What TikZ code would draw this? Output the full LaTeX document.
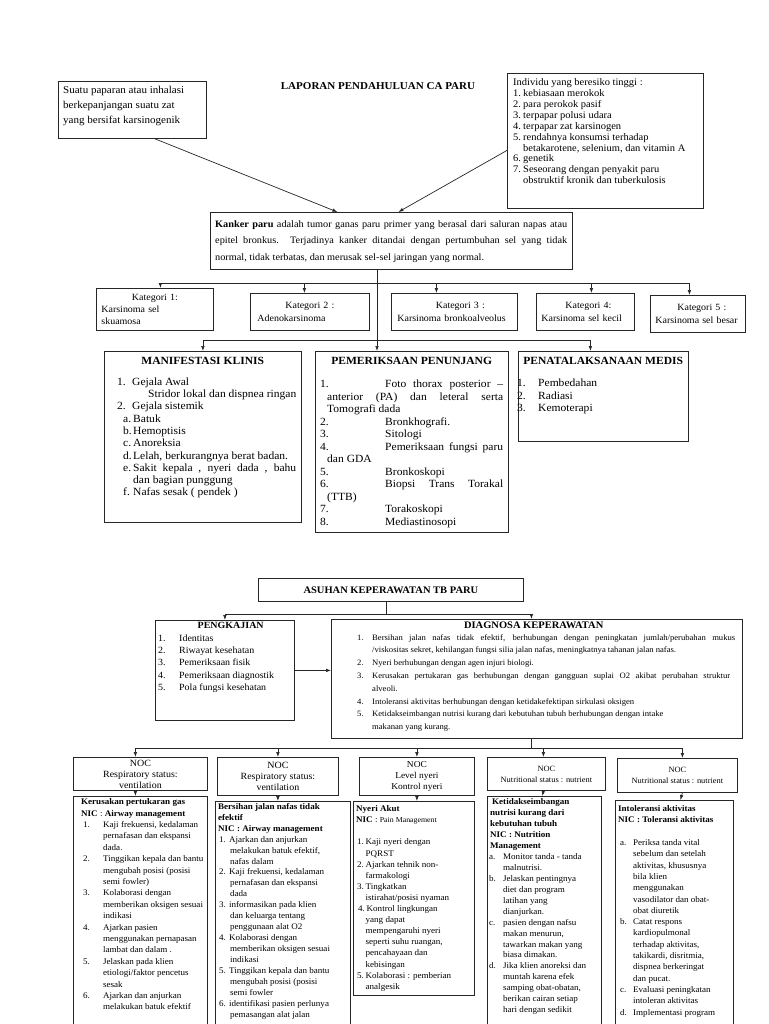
\documentclass[tikz,border=0pt]{standalone}
\usepackage{fontspec}
\setmainfont{Liberation Serif}[FakeStretch=1.05]
\usetikzlibrary{calc,arrows.meta}
\newcommand{\fs}[2]{\fontsize{#1}{#2}\selectfont}
\newcommand{\nb}[2]{\makebox[#1pt][l]{#2}}
\newcommand{\ind}[1]{\hspace*{#1pt}}
\newcommand{\jl}[2]{\makebox[#1pt][s]{#2}}
\begin{document}
\begin{tikzpicture}[x=1pt,y=-1pt,
  box/.style={draw=black!85, line width=0.8pt, inner sep=0pt, anchor=north west},
  txt/.style={inner sep=0pt, anchor=north west, align=left},
  arr/.style={draw=black!85, line width=0.7pt, -{Latex[length=5pt,width=3.6pt]}},
  ln/.style={draw=black!85, line width=0.7pt}]
\useasboundingbox (0,0) rectangle (768,1024);
\fill[white] (0,0) rectangle (768,1024);

% ---------- top part ----------
\node[font=\fs{10.5}{12}\bfseries] (title) at (378,86) {LAPORAN PENDAHULUAN CA PARU};

\node[box, minimum width=148, minimum height=57] (s1) at (58,81) {};
\node[txt, font=\fs{10.5}{15}] (s1t) at (63,86.5) {Suatu paparan atau inhalasi\\berkepanjangan suatu zat\\yang bersifat karsinogenik};

\node[box, minimum width=196, minimum height=135] (s2) at (507,73) {};
\node[txt, font=\fs{10}{10.9}] (s2t) at (513,78.5) {Individu yang beresiko tinggi :\\
\nb{10}{1.}kebiasaan merokok\\
\nb{10}{2.}para perokok pasif\\
\nb{10}{3.}terpapar polusi udara\\
\nb{10}{4.}terpapar zat karsinogen\\
\nb{10}{5.}rendahnya konsumsi terhadap\\
\ind{10}betakarotene, selenium, dan vitamin A\\
\nb{10}{6.}genetik\\
\nb{10}{7.}Seseorang dengan penyakit paru\\
\ind{10}obstruktif kronik dan tuberkulosis};

\node[box, minimum width=362, minimum height=57] (kanker) at (210,212) {};
\node[txt, font=\fs{9.8}{16.5}] (kt) at (215,220.5) {\jl{352}{\textbf{Kanker paru} adalah tumor ganas paru primer yang berasal dari saluran napas atau}\\
\jl{352}{epitel bronkus. Terjadinya kanker ditandai dengan pertumbuhan sel yang tidak}\\
normal, tidak terbatas, dan merusak sel-sel jaringan yang normal.};

\draw[arr] ($(s1.south)+(22.5,0)$) -- ($(kanker.north)+(-54,0)$);
\draw[arr] ($(s2.west)+(0,9.5)$) -- ($(kanker.north)+(7,0)$);

% categories
\tikzset{cat/.style={box, minimum height=37, align=left, font=\fs{9.5}{12.3}}}
\node[cat, minimum width=117, minimum height=42, text width=107] (c1) at (96,288) {\makebox[107pt]{Kategori 1:}\\Karsinoma sel\\skuamosa};
\node[cat, minimum width=119, text width=105] (c2) at (250,293) {\makebox[105pt]{Kategori 2 :}\\Adenokarsinoma};
\node[cat, minimum width=126, text width=114] (c3) at (391,293) {\makebox[114pt]{\hspace*{12pt}Kategori 3 :}\\Karsinoma bronkoalveolus};
\node[cat, minimum width=98, text width=88] (c4) at (536,293) {\makebox[88pt]{\hspace*{6pt}Kategori 4:}\\Karsinoma sel kecil};
\node[cat, minimum width=95, text width=85] (c5) at (650,295) {\makebox[85pt]{\hspace*{8pt}Kategori 5 :}\\Karsinoma sel besar};

\coordinate (j1) at (377,283);
\coordinate (j2) at (377,340);
\draw[ln] (kanker.south -| j1) -- (j2);
\draw[arr] (j1) -| ($(c1.north)+(5.5,0)$);
\draw[arr] (j1) -| ($(c2.north)+(-5.5,0)$);
\draw[arr] (j1) -| ($(c3.north)+(-18,0)$);
\draw[arr] (j1) -| ($(c4.north)+(6,0)$);
\draw[arr] (j1) -| ($(c5.north)+(-8.5,0)$);

% three info boxes
\node[box, minimum width=197, minimum height=171] (m1) at (104,351) {};
\node[box, minimum width=193, minimum height=181] (m2) at (315,351) {};
\node[box, minimum width=170, minimum height=90] (m3) at (518,351) {};
\draw[arr] (j2) -| (m1.north);
\draw[arr] (j2) -- (j2 |- m2.north);
\draw[arr] (j2) -| ($(m3.north)+(-13,0)$);

\node[txt, font=\fs{11}{12.3}] (m1t) at (109,357) {\makebox[187pt]{\bfseries MANIFESTASI KLINIS}\\[8.5pt]
\ind{8}\nb{15}{1.}Gejala Awal\\
\ind{39}Stridor lokal dan dispnea ringan\\
\ind{8}\nb{15}{2.}Gejala sistemik\\
\ind{14}\nb{10}{a.}Batuk\\
\ind{14}\nb{10}{b.}Hemoptisis\\
\ind{14}\nb{10}{c.}Anoreksia\\
\ind{14}\nb{10}{d.}Lelah, berkurangnya berat badan.\\
\ind{14}\nb{10}{e.}\jl{163}{Sakit kepala , nyeri dada , bahu}\\
\ind{24}dan bagian punggung\\
\ind{14}\nb{10}{f.}Nafas sesak ( pendek )};

\node[txt, font=\fs{11}{12.5}] (m2t) at (320,357) {\makebox[183pt]{\bfseries PEMERIKSAAN PENUNJANG}\\[11pt]
\nb{65}{1.}\jl{118}{Foto thorax posterior --}\\
\ind{7}\jl{176}{anterior (PA) dan leteral serta}\\
\ind{7}Tomografi dada\\
\nb{65}{2.}Bronkhografi.\\
\nb{65}{3.}Sitologi\\
\nb{65}{4.}\jl{118}{Pemeriksaan fungsi paru}\\
\ind{7}dan GDA\\
\nb{65}{5.}Bronkoskopi\\
\nb{65}{6.}\jl{118}{Biopsi Trans Torakal}\\
\ind{7}(TTB)\\
\nb{65}{7.}Torakoskopi\\
\nb{65}{8.}Mediastinosopi};

\node[txt, font=\fs{11}{12.5}] (m3t) at (517,357) {\makebox[172pt]{\bfseries PENATALAKSANAAN MEDIS}\\[10pt]
\nb{21}{1.}Pembedahan\\
\nb{21}{2.}Radiasi\\
\nb{21}{3.}Kemoterapi};

% ---------- bottom part ----------
\node[box, minimum width=265, minimum height=23, font=\fs{10}{12}\bfseries] (asuhan) at (258,578) {ASUHAN KEPERAWATAN TB PARU};
\node[box, minimum width=139, minimum height=100] (p1) at (155,620) {};
\node[box, minimum width=411, minimum height=119] (d1) at (331,619) {};
\coordinate (j3) at (386,614);
\draw[ln] (asuhan.south -| j3) -- (j3);
\draw[arr] (j3) -| (p1.north);
\draw[arr] (j3) -| ($(d1.north)+(-5.5,0)$);
\draw[arr] (p1.east) -- (p1.east -| d1.west);

\node[txt, font=\fs{9.5}{12.3}] (p1t) at (158,622.5) {\makebox[133pt]{\hspace*{12pt}\bfseries PENGKAJIAN}\\
\nb{21}{1.}Identitas\\
\nb{21}{2.}Riwayat kesehatan\\
\nb{21}{3.}Pemeriksaan fisik\\
\nb{21}{4.}Pemeriksaan diagnostik\\
\nb{21}{5.}Pola fungsi kesehatan};

\node[txt, font=\fs{8.2}{12.8}] (d1t) at (336,622) {\makebox[401pt]{\hspace*{-6pt}\fs{10}{12}\bfseries DIAGNOSA KEPERAWATAN}\\[-1.5pt]
\ind{21}\nb{15}{1.}\jl{363}{Bersihan jalan nafas tidak efektif, berhubungan dengan peningkatan jumlah/perubahan mukus}\\
\ind{36}/viskositas sekret, kehilangan fungsi silia jalan nafas, meningkatnya tahanan jalan nafas.\\
\ind{21}\nb{15}{2.}Nyeri berhubungan dengan agen injuri biologi.\\
\ind{21}\nb{15}{3.}\jl{358}{Kerusakan pertukaran gas berhubungan dengan gangguan suplai O2 akibat perubahan struktur}\\
\ind{36}alveoli.\\
\ind{21}\nb{15}{4.}Intoleransi aktivitas berhubungan dengan ketidakefektipan sirkulasi oksigen\\
\ind{21}\nb{15}{5.}Ketidakseimbangan nutrisi kurang dari kebutuhan tubuh berhubungan dengan intake\\
\ind{36}makanan yang kurang.};

% NOC boxes
\tikzset{noc/.style={box, align=center}}
\node[noc, minimum width=134, minimum height=33, font=\fs{9.5}{11}] (n1) at (73,757) {NOC\\Respiratory status:\\ventilation};
\node[noc, minimum width=121, minimum height=38, font=\fs{9.5}{11}] (n2) at (217,757) {NOC\\Respiratory status:\\ventilation};
\node[noc, minimum width=115, minimum height=38, font=\fs{9}{11}] (n3) at (359,757) {NOC\\Level nyeri\\Kontrol nyeri};
\node[noc, minimum width=118, minimum height=33, font=\fs{8}{11}] (n4) at (487,757) {NOC\\Nutritional status : nutrient};
\node[noc, minimum width=120, minimum height=34, font=\fs{8}{11}] (n5) at (617,758) {NOC\\Nutritional status : nutrient};

\coordinate (j4) at (531,748);
\draw[ln] (d1.south -| j4) -- (j4);
\draw[arr] (j4) -| ($(n1.north)+(-5,0)$);
\draw[arr] (j4) -| (n2.north);
\draw[arr] (j4) -| (n3.north);
\draw[arr] (j4) -| ($(n4.north)+(-3,0)$);
\draw[arr] (j4) -| ($(n5.north)+(5,0)$);

% NIC boxes
\node[box, minimum width=134, minimum height=240] (k1) at (73,796) {};
\node[box, minimum width=135, minimum height=240] (k2) at (215,801) {};
\node[box, minimum width=121, minimum height=194] (k3) at (353,801) {};
\node[box, minimum width=114, minimum height=240] (k4) at (487,796) {};
\node[box, minimum width=118, minimum height=240] (k5) at (615,800) {};
\draw[arr] ($(n1.south)+(-5,0)$) -- ($(k1.north)+(-5,0)$);
\draw[arr] (n2.south) -- ($(k2.north)+(-5,0)$);
\draw[arr] (n3.south) -- ($(k3.north)+(3,0)$);
\draw[arr] ($(n4.south)+(-3,0)$) -- ($(k4.north)+(-2,0)$);
\draw[arr] ($(n5.south)+(5,0)$) -- ($(k5.north)+(6,0)$);

\node[txt, font=\fs{8.6}{11.4}] (k1t) at (81,798.5) {\textbf{Kerusakan pertukaran gas}\\
\textbf{NIC} : \textbf{Airway management}\\
\ind{2}\nb{20}{1.}Kaji frekuensi, kedalaman\\
\ind{22}pernafasan dan ekspansi\\
\ind{22}dada.\\
\ind{2}\nb{20}{2.}Tinggikan kepala dan bantu\\
\ind{22}mengubah posisi (posisi\\
\ind{22}semi fowler)\\
\ind{2}\nb{20}{3.}Kolaborasi dengan\\
\ind{22}memberikan oksigen sesuai\\
\ind{22}indikasi\\
\ind{2}\nb{20}{4.}Ajarkan pasien\\
\ind{22}menggunakan pernapasan\\
\ind{22}lambat dan dalam .\\
\ind{2}\nb{20}{5.}Jelaskan pada klien\\
\ind{22}etiologi/faktor pencetus\\
\ind{22}sesak\\
\ind{2}\nb{20}{6.}Ajarkan dan anjurkan\\
\ind{22}melakukan batuk efektif};

\node[txt, font=\fs{8.6}{10.95}] (k2t) at (218,803) {\textbf{Bersihan jalan nafas tidak}\\
\textbf{efektif}\\
\textbf{NIC : Airway management}\\
\ind{1}\nb{10}{1.}Ajarkan dan anjurkan\\
\ind{12}melakukan batuk efektif,\\
\ind{12}nafas dalam\\
\ind{1}\nb{10}{2.}Kaji frekuensi, kedalaman\\
\ind{12}pernafasan dan ekspansi\\
\ind{12}dada\\
\ind{1}\nb{10}{3.}informasikan pada klien\\
\ind{12}dan keluarga tentang\\
\ind{12}penggunaan alat  O2\\
\ind{1}\nb{10}{4.}Kolaborasi dengan\\
\ind{12}memberikan oksigen sesuai\\
\ind{12}indikasi\\
\ind{1}\nb{10}{5.}Tinggikan kepala dan bantu\\
\ind{12}mengubah posisi (posisi\\
\ind{12}semi fowler\\
\ind{1}\nb{10}{6.}identifikasi pasien perlunya\\
\ind{12}pemasangan alat jalan};

\node[txt, font=\fs{8.6}{11.1}] (k3t) at (356,805.5) {\textbf{Nyeri Akut}\\
\textbf{NIC} : {\fs{7.5}{9}Pain Management}\\[11.1pt]
\ind{1}\nb{8.5}{1.}Kaji nyeri dengan\\
\ind{9.5}PQRST\\
\ind{1}\nb{8.5}{2.}Ajarkan tehnik non-\\
\ind{9.5}farmakologi\\
\ind{1}\nb{8.5}{3.}Tingkatkan\\
\ind{9.5}istirahat/posisi nyaman\\
\ind{2}\nb{8.5}{4.}Kontrol lingkungan\\
\ind{9.5}yang dapat\\
\ind{9.5}mempengaruhi nyeri\\
\ind{9.5}seperti suhu ruangan,\\
\ind{9.5}pencahayaan dan\\
\ind{9.5}kebisingan\\
\ind{1}\nb{8.5}{5.}Kolaborasi : pemberian\\
\ind{9.5}analgesik};

\node[txt, font=\fs{8.6}{10.95}] (k4t) at (489,798.5) {\ind{3}\textbf{Ketidakseimbangan}\\
\ind{1}\textbf{nutrisi kurang dari}\\
\ind{1}\textbf{kebutuhan tubuh}\\
\ind{1}\textbf{NIC : Nutrition}\\
\ind{1}\textbf{Management}\\
\nb{14}{a.}Monitor tanda - tanda\\
\ind{14}malnutrisi.\\
\nb{14}{b.}Jelaskan pentingnya\\
\ind{14}diet dan program\\
\ind{14}latihan yang\\
\ind{14}dianjurkan.\\
\nb{14}{c.}pasien dengan nafsu\\
\ind{14}makan menurun,\\
\ind{14}tawarkan makan yang\\
\ind{14}biasa dimakan.\\
\nb{14}{d.}Jika klien anoreksi dan\\
\ind{14}muntah karena efek\\
\ind{14}samping obat-obatan,\\
\ind{14}berikan cairan setiap\\
\ind{14}hari dengan sedikit};

\node[txt, font=\fs{8.6}{11.3}] (k5t) at (618,805.5) {\textbf{Intoleransi aktivitas}\\
\textbf{NIC : Toleransi aktivitas}\\[11.3pt]
\ind{2}\nb{13}{a.}Periksa tanda vital\\
\ind{15}sebelum dan setelah\\
\ind{15}aktivitas, khususnya\\
\ind{15}bila klien\\
\ind{15}menggunakan\\
\ind{15}vasodilator dan obat-\\
\ind{15}obat diuretik\\
\ind{2}\nb{13}{b.}Catat respons\\
\ind{15}kardiopulmonal\\
\ind{15}terhadap aktivitas,\\
\ind{15}takikardi, disritmia,\\
\ind{15}dispnea berkeringat\\
\ind{15}dan pucat.\\
\ind{2}\nb{13}{c.}Evaluasi peningkatan\\
\ind{15}intoleran aktivitas\\
\ind{2}\nb{13}{d.}Implementasi program};
\end{tikzpicture}
\end{document}
